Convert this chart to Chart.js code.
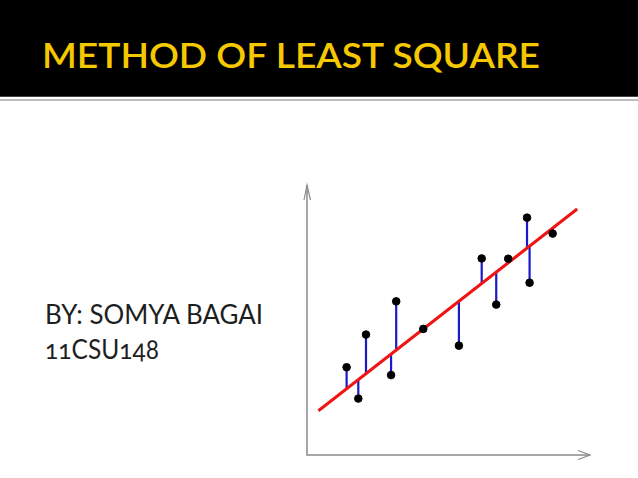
<!DOCTYPE html>
<html>
<head>
<meta charset="utf-8">
<script src="https://cdn.jsdelivr.net/npm/chart.js@4.4.0/dist/chart.umd.min.js"></script>
<style>
  html, body { margin: 0; padding: 0; background: #fff; }
  body { width: 638px; height: 478px; position: relative; overflow: hidden; font-family: Lato, "Open Sans", sans-serif; }
  #header { position: absolute; left: 0; top: 0; width: 638px; height: 97px; background: #000; border-bottom: 1px solid #444; box-sizing: border-box; }
  #rule { position: absolute; left: 0; top: 99px; width: 638px; height: 2px; background: #bdbdbd; }
  #title { position: absolute; left: 42px; top: 37px; font-size: 35px; font-weight: 600; color: #f5c800; white-space: nowrap; transform-origin: 0 0; line-height: 1; }
  .by { position: absolute; left: 45px; font-size: 26px; color: #1e1e1e; white-space: nowrap; transform-origin: 0 0; line-height: 1; font-variant-numeric: oldstyle-nums; }
  #wrap { position: absolute; left: 290px; top: 170px; width: 330px; height: 300px; }
</style>
</head>
<body>
<div id="header"><div id="title">METHOD OF LEAST SQUARE</div></div>
<div id="rule"></div>
<div class="by" id="by1" style="top:301px">BY: SOMYA BAGAI</div>
<div class="by" id="by2" style="top:336px">11CSU148</div>
<div id="wrap"><canvas id="chart" width="330" height="300"></canvas></div>
<script>
const pointX = [13.9, 18.0, 20.7, 29.5, 31.3, 40.8, 53.3, 61.3, 66.4, 70.6, 77.2, 78.1, 86.2];
const pointY = [32.5, 20.9, 44.6, 29.6, 56.9, 46.7, 40.5, 72.8, 55.7, 72.7, 87.9, 63.8, 82.0];
// where each residual meets the fitted line
const fitY = [24.5, 27.9, 30.1, 37.4, 38.9, 46.7, 57.0, 63.6, 67.7, 71.2, 76.6, 77.4, 84.0];
// ends of the fitted line
const lineX = [4.0, 94.8];
const lineY = [16.4, 91.1];

function fitWidth(id, target) {
    const el = document.getElementById(id);
    const w = el.getBoundingClientRect().width;
    el.style.transform = "scaleX(" + (target / w) + ")";
}
fitWidth("title", 498);
fitWidth("by1", 218);
fitWidth("by2", 114);

const residuals = [];
pointX.forEach((x, i) => {
    residuals.push({ x: x, y: pointY[i] });
    residuals.push({ x: x, y: fitY[i] });
    residuals.push({ x: x, y: null });
});

const axisArrows = {
    id: "axisArrows",
    beforeDatasetsDraw(chart) {
        const { ctx, chartArea } = chart;
        const { left, top, right, bottom } = chartArea;
        ctx.save();
        ctx.strokeStyle = "#8a8a8a";
        ctx.lineWidth = 1.5;
        ctx.beginPath();
        ctx.moveTo(left, top);
        ctx.lineTo(left, bottom);
        ctx.lineTo(right - 2, bottom);
        ctx.stroke();
        ctx.lineWidth = 1.2;
        ctx.beginPath();
        ctx.moveTo(left - 3, top + 15);
        ctx.lineTo(left, top);
        ctx.lineTo(left + 3.5, top + 15);
        ctx.moveTo(right - 14, bottom - 4.5);
        ctx.lineTo(right - 2, bottom);
        ctx.lineTo(right - 14, bottom + 4.5);
        ctx.stroke();
        ctx.restore();
    }
};

new Chart(document.getElementById("chart"), {
    type: "scatter",
    data: {
        datasets: [
            {
                data: pointX.map((x, i) => ({ x: x, y: pointY[i] })),
                showLine: false,
                pointRadius: 3.8,
                pointBackgroundColor: "#000",
                pointBorderColor: "#000",
                order: 0
            },
            {
                data: lineX.map((x, i) => ({ x: x, y: lineY[i] })),
                showLine: true,
                borderColor: "#f01414",
                borderWidth: 3,
                pointRadius: 0,
                order: 1
            },
            {
                data: residuals,
                showLine: true,
                spanGaps: false,
                borderColor: "#1a1ac8",
                borderWidth: 2.2,
                pointRadius: 0,
                order: 2
            }
        ]
    },
    options: {
        responsive: false,
        animation: false,
        layout: { padding: { left: 17, top: 15, right: 28, bottom: 15 } },
        plugins: { legend: { display: false }, tooltip: { enabled: false } },
        scales: {
            x: { display: false, min: 0, max: 100 },
            y: { display: false, min: 0, max: 100 }
        }
    },
    plugins: [axisArrows]
});
</script>
</body>
</html>
